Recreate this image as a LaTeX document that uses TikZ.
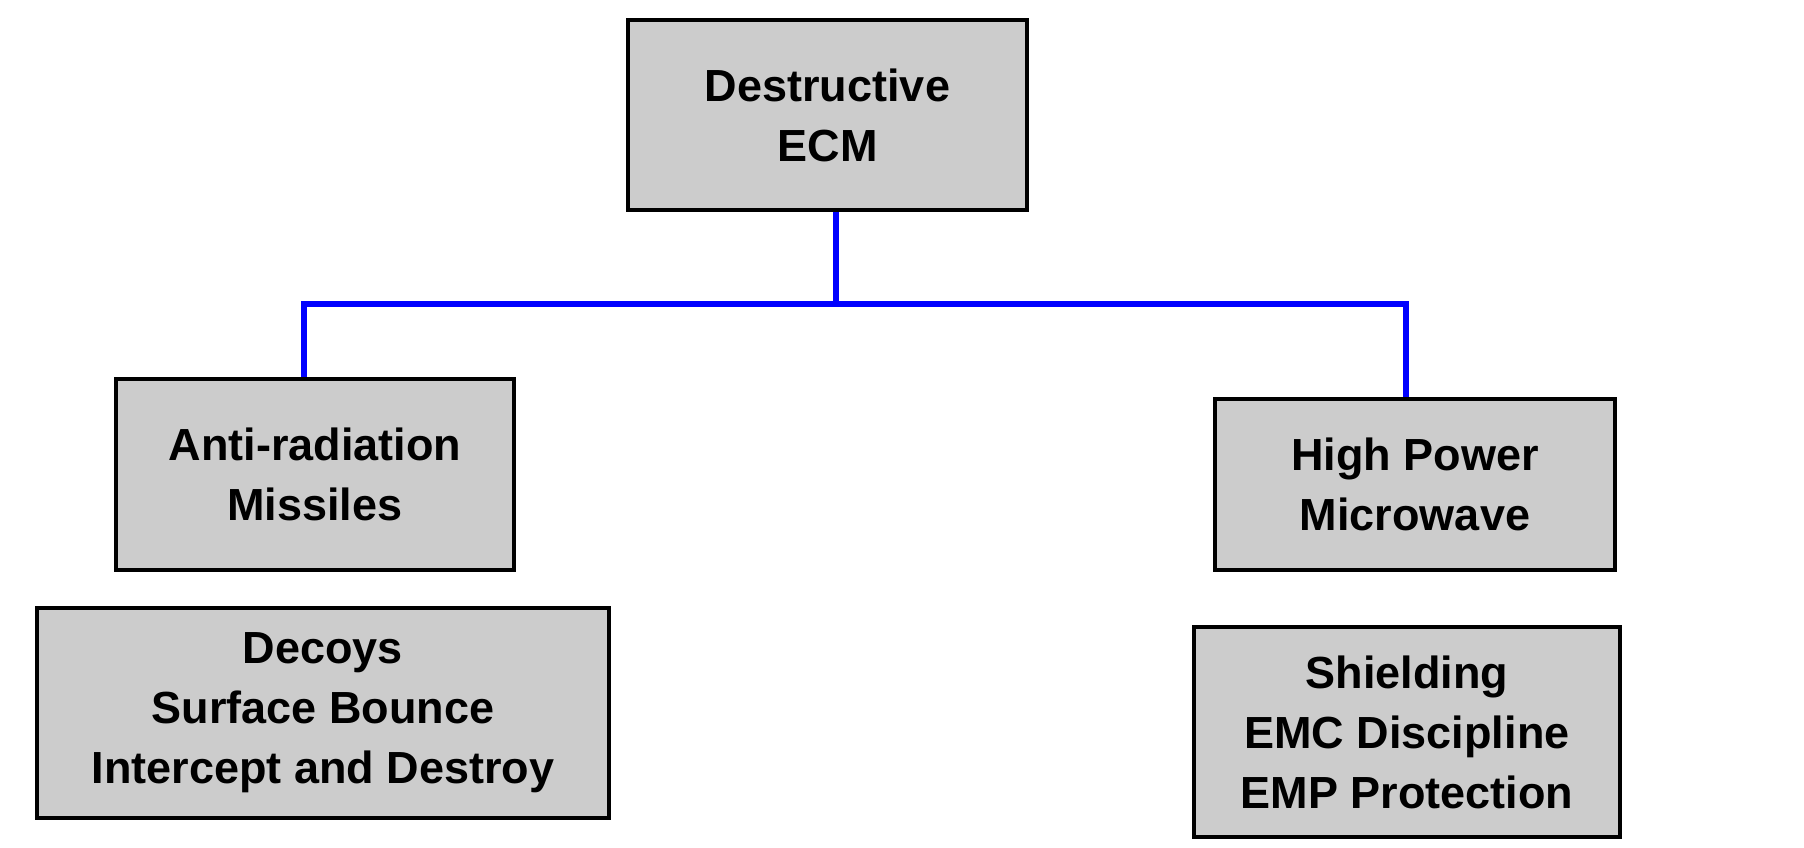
\documentclass[tikz,border=0pt]{standalone}
\usepackage{fontspec}
\setmainfont{Liberation Sans}
\begin{document}
\begin{tikzpicture}[x=1pt,y=-1pt,
  box/.style={draw=black,line width=3.5pt,fill={rgb,255:red,204;green,204;blue,204},inner sep=0pt,
    font=\fontsize{45}{60}\selectfont\bfseries,align=center},
  link/.style={draw={rgb,255:red,0;green,0;blue,255},line width=6pt}]
\useasboundingbox (0,0) rectangle (1804,848);
\node[box,minimum width=399pt,minimum height=190pt] (top) at (827.5,115) {Destructive\\ECM};
\node[box,minimum width=398pt,minimum height=191pt] (arm) at (315,474.5) {Anti-radiation\\Missiles};
\node[box,minimum width=400pt,minimum height=171pt] (hpm) at (1415,484.5) {High Power\\Microwave};
\node[box,minimum width=572pt,minimum height=210pt] (dec) at (323,713) {Decoys\\Surface Bounce\\Intercept and Destroy};
\node[box,minimum width=426pt,minimum height=210pt] (shd) at (1407,732) {Shielding\\EMC Discipline\\EMP Protection};
\coordinate (j) at (836,304);
\draw[link] (top.south -| j) -- (j);
\draw[link] (arm.north -| 304,0) -- (304,304) -- (1406,304) -- (hpm.north -| 1406,0);
\end{tikzpicture}
\end{document}
